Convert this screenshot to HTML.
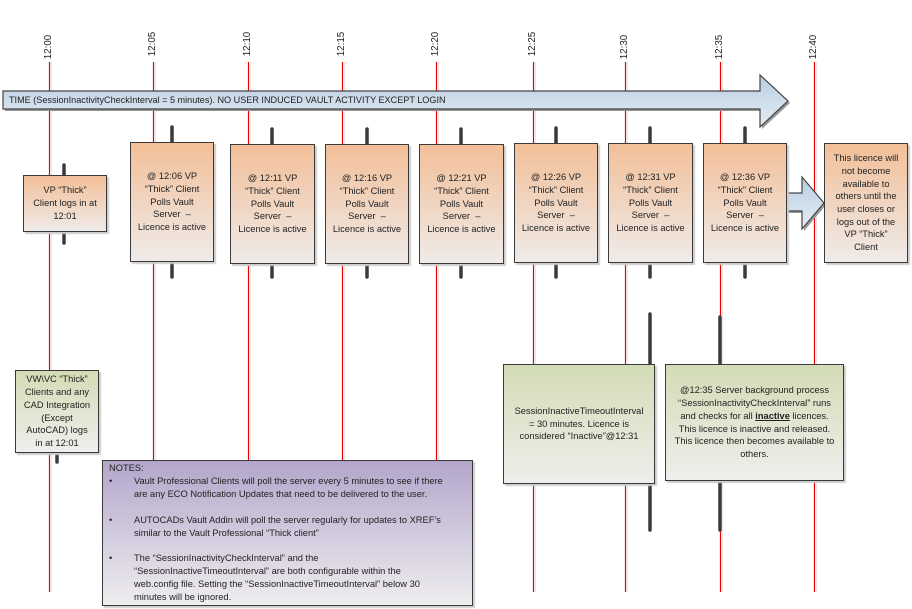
<!DOCTYPE html>
<html><head><meta charset="utf-8">
<style>
body{margin:0;width:912px;height:609px;overflow:hidden;background:#fff;font-family:"Liberation Sans",sans-serif;}
.b{position:absolute;box-sizing:border-box;border:1.3px solid #3a3a3a;display:flex;align-items:center;justify-content:center;text-align:center;font-size:9.3px;line-height:12.7px;color:#222;box-shadow:2px 2px 1px #ccc;}
.o{background:linear-gradient(#f2bf98,#efebe9);}
.g{background:linear-gradient(#d3dcb6,#efeeec);}
.p{background:linear-gradient(#b3a6cb,#efedef);}
.t{position:absolute;font-size:9.8px;color:#222;transform:rotate(-90deg);transform-origin:center;width:30px;text-align:center;height:12px;line-height:12px;}
</style></head><body>
<svg width="912" height="609" style="position:absolute;left:0;top:0">
<defs><linearGradient id="ag" x1="0" y1="0" x2="0" y2="1"><stop offset="0" stop-color="#b8cde2"/><stop offset="1" stop-color="#e6edf4"/></linearGradient></defs>
<g stroke="#e6e6e6" stroke-width="1">
<line x1="51.5" y1="62" x2="51.5" y2="592"/><line x1="155.5" y1="62" x2="155.5" y2="592"/><line x1="250.5" y1="62" x2="250.5" y2="592"/><line x1="344.5" y1="62" x2="344.5" y2="592"/><line x1="438.5" y1="62" x2="438.5" y2="592"/><line x1="535.5" y1="62" x2="535.5" y2="592"/><line x1="627.5" y1="62" x2="627.5" y2="592"/><line x1="722.5" y1="62" x2="722.5" y2="592"/><line x1="816.5" y1="62" x2="816.5" y2="592"/>
</g>
<g stroke="#e60000" stroke-width="1.2">
<line x1="49.5" y1="62" x2="49.5" y2="592"/><line x1="153.5" y1="62" x2="153.5" y2="592"/><line x1="248.5" y1="62" x2="248.5" y2="592"/><line x1="342.5" y1="62" x2="342.5" y2="592"/><line x1="436.5" y1="62" x2="436.5" y2="592"/><line x1="533.5" y1="62" x2="533.5" y2="592"/><line x1="625.5" y1="62" x2="625.5" y2="592"/><line x1="720.5" y1="62" x2="720.5" y2="592"/><line x1="814.5" y1="62" x2="814.5" y2="592"/>
</g>
<polygon points="5,93 762,93 762,77 790,103 762,129 762,111 5,111" fill="#999"/>
<polygon points="3,91 760,91 760,75 788,101 760,127 760,109 3,109" fill="url(#ag)" stroke="#444" stroke-width="1.2"/>
<polygon points="788,195 804,195 804,179 826,205 804,231 804,213 788,213" fill="#999"/>
<polygon points="786,193 802,193 802,177 824,203 802,229 802,211 786,211" fill="url(#ag)" stroke="#444" stroke-width="1.2"/>
<g stroke="#3a3a3a" stroke-width="3.5" stroke-linecap="round">
<line x1="64" y1="165" x2="64" y2="243"/>
<line x1="172" y1="127" x2="172" y2="277"/>
<line x1="272" y1="129" x2="272" y2="277"/>
<line x1="367" y1="129" x2="367" y2="277"/>
<line x1="461" y1="129" x2="461" y2="277"/>
<line x1="556" y1="128" x2="556" y2="277"/>
<line x1="650" y1="128" x2="650" y2="277"/>
<line x1="745" y1="128" x2="745" y2="277"/>
<line x1="57" y1="452" x2="57" y2="462"/>
<line x1="650" y1="314" x2="650" y2="530"/>
<line x1="720" y1="317" x2="720" y2="530"/>
</g>
</svg>
<div class="t" style="left:34px;top:41px">12:00</div>
<div class="t" style="left:138px;top:38px">12:05</div>
<div class="t" style="left:233px;top:38px">12:10</div>
<div class="t" style="left:327px;top:38px">12:15</div>
<div class="t" style="left:421px;top:38px">12:20</div>
<div class="t" style="left:518px;top:38px">12:25</div>
<div class="t" style="left:610px;top:41px">12:30</div>
<div class="t" style="left:705px;top:41px">12:35</div>
<div class="t" style="left:799px;top:41px">12:40</div>
<div style="position:absolute;left:9px;top:94px;font-size:9.1px;line-height:12px;color:#222;white-space:nowrap">TIME (SessionInactivityCheckInterval = 5 minutes). NO USER INDUCED VAULT ACTIVITY EXCEPT LOGIN</div>
<div class="b o" style="left:23px;top:175px;width:84px;height:57px"><div>VP “Thick”<br>Client logs in at<br>12:01</div></div>
<div class="b o" style="left:130px;top:142px;width:84px;height:120px"><div>@ 12:06 VP<br>“Thick” Client<br>Polls Vault<br>Server &nbsp;–<br>Licence is active</div></div>
<div class="b o" style="left:230px;top:144px;width:85px;height:120px"><div>@ 12:11 VP<br>“Thick” Client<br>Polls Vault<br>Server &nbsp;–<br>Licence is active</div></div>
<div class="b o" style="left:325px;top:144px;width:84px;height:120px"><div>@ 12:16 VP<br>“Thick” Client<br>Polls Vault<br>Server &nbsp;–<br>Licence is active</div></div>
<div class="b o" style="left:419px;top:144px;width:85px;height:120px"><div>@ 12:21 VP<br>“Thick” Client<br>Polls Vault<br>Server &nbsp;–<br>Licence is active</div></div>
<div class="b o" style="left:514px;top:143px;width:84px;height:120px"><div>@ 12:26 VP<br>“Thick” Client<br>Polls Vault<br>Server &nbsp;–<br>Licence is active</div></div>
<div class="b o" style="left:608px;top:143px;width:85px;height:120px"><div>@ 12:31 VP<br>“Thick” Client<br>Polls Vault<br>Server &nbsp;–<br>Licence is active</div></div>
<div class="b o" style="left:703px;top:143px;width:84px;height:120px"><div>@ 12:36 VP<br>“Thick” Client<br>Polls Vault<br>Server &nbsp;–<br>Licence is active</div></div>
<div class="b o" style="left:824px;top:143px;width:84px;height:120px"><div>This licence will<br>not become<br>available to<br>others until the<br>user closes or<br>logs out of the<br>VP “Thick”<br>Client</div></div>
<div class="b g" style="left:15px;top:370px;width:84px;height:83px"><div>VW\VC “Thick”<br>Clients and any<br>CAD Integration<br>(Except<br>AutoCAD) logs<br>in at 12:01</div></div>
<div class="b g" style="left:503px;top:364px;width:152px;height:120px"><div>SessionInactiveTimeoutInterval<br>= 30 minutes. Licence is<br>considered “Inactive”@12:31</div></div>
<div class="b g" style="left:665px;top:364px;width:179px;height:117px"><div style="white-space:nowrap">@12:35 Server background process<br>“SessionInactivityCheckInterval” runs<br>and checks for all <b><u>inactive</u></b> licences.<br>This licence is inactive and released.<br>This licence then becomes available to<br>others.</div></div>
<div class="b p" style="left:102px;top:460px;width:371px;height:146px;display:block;text-align:left;padding:1px 6px;line-height:12.9px">
NOTES:<br>
<div style="position:relative;padding-left:25px;white-space:nowrap">
<span style="position:absolute;left:0">•</span>Vault Professional Clients will poll the server every 5 minutes to see if there<br>are any ECO Notification Updates that need to be delivered to the user.<br><br>
<span style="position:absolute;left:0">•</span>AUTOCADs Vault Addin will poll the server regularly for updates to XREF’s<br>similar to the Vault Professional “Thick client”<br><br>
<span style="position:absolute;left:0">•</span>The “SessionInactivityCheckInterval” and the<br>“SessionInactiveTimeoutInterval” are both configurable within the<br>web.config file. Setting the “SessionInactiveTimeoutInterval” below 30<br>minutes will be ignored.
</div></div>
</body></html>
